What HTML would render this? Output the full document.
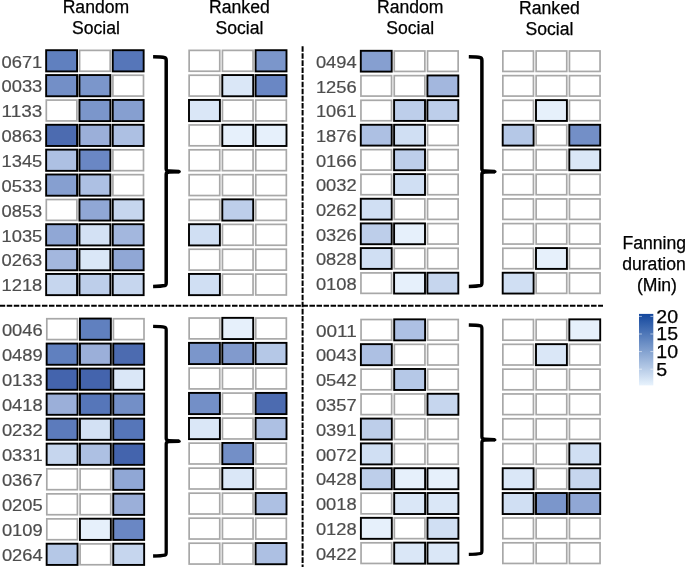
<!DOCTYPE html>
<html><head><meta charset="utf-8"><title>Fanning duration</title>
<style>
html,body{margin:0;padding:0;background:#fff;}
svg{display:block;font-family:"Liberation Sans",sans-serif;font-size:17.3px;}
.t{font-size:17.6px;fill:#000;stroke:#000;stroke-width:0.25px;}
</style></head><body>
<svg width="685" height="567" viewBox="0 0 685 567">
<rect width="685" height="567" fill="#fff"/>
<text x="42.3" y="67.50" text-anchor="end" fill="#4d4d4d" stroke="#4d4d4d" stroke-width="0.2" textLength="40.8" lengthAdjust="spacingAndGlyphs">0671</text>
<text x="42.3" y="92.36" text-anchor="end" fill="#4d4d4d" stroke="#4d4d4d" stroke-width="0.2" textLength="40.8" lengthAdjust="spacingAndGlyphs">0033</text>
<text x="42.3" y="117.22" text-anchor="end" fill="#4d4d4d" stroke="#4d4d4d" stroke-width="0.2" textLength="40.8" lengthAdjust="spacingAndGlyphs">1133</text>
<text x="42.3" y="142.08" text-anchor="end" fill="#4d4d4d" stroke="#4d4d4d" stroke-width="0.2" textLength="40.8" lengthAdjust="spacingAndGlyphs">0863</text>
<text x="42.3" y="166.94" text-anchor="end" fill="#4d4d4d" stroke="#4d4d4d" stroke-width="0.2" textLength="40.8" lengthAdjust="spacingAndGlyphs">1345</text>
<text x="42.3" y="191.80" text-anchor="end" fill="#4d4d4d" stroke="#4d4d4d" stroke-width="0.2" textLength="40.8" lengthAdjust="spacingAndGlyphs">0533</text>
<text x="42.3" y="216.66" text-anchor="end" fill="#4d4d4d" stroke="#4d4d4d" stroke-width="0.2" textLength="40.8" lengthAdjust="spacingAndGlyphs">0853</text>
<text x="42.3" y="241.52" text-anchor="end" fill="#4d4d4d" stroke="#4d4d4d" stroke-width="0.2" textLength="40.8" lengthAdjust="spacingAndGlyphs">1035</text>
<text x="42.3" y="266.38" text-anchor="end" fill="#4d4d4d" stroke="#4d4d4d" stroke-width="0.2" textLength="40.8" lengthAdjust="spacingAndGlyphs">0263</text>
<text x="42.3" y="291.24" text-anchor="end" fill="#4d4d4d" stroke="#4d4d4d" stroke-width="0.2" textLength="40.8" lengthAdjust="spacingAndGlyphs">1218</text>
<rect x="189.15" y="50.38" width="30.6" height="20.85" fill="#fff" stroke="#a8a8a8" stroke-width="1.7"/>
<rect x="79.60" y="50.38" width="30.6" height="20.85" fill="#fff" stroke="#a8a8a8" stroke-width="1.7"/>
<rect x="222.45" y="50.38" width="30.6" height="20.85" fill="#fff" stroke="#a8a8a8" stroke-width="1.7"/>
<rect x="189.15" y="75.23" width="30.6" height="20.85" fill="#fff" stroke="#a8a8a8" stroke-width="1.7"/>
<rect x="112.90" y="75.23" width="30.6" height="20.85" fill="#fff" stroke="#a8a8a8" stroke-width="1.7"/>
<rect x="46.30" y="100.09" width="30.6" height="20.85" fill="#fff" stroke="#a8a8a8" stroke-width="1.7"/>
<rect x="222.45" y="100.09" width="30.6" height="20.85" fill="#fff" stroke="#a8a8a8" stroke-width="1.7"/>
<rect x="255.75" y="100.09" width="30.6" height="20.85" fill="#fff" stroke="#a8a8a8" stroke-width="1.7"/>
<rect x="189.15" y="124.95" width="30.6" height="20.85" fill="#fff" stroke="#a8a8a8" stroke-width="1.7"/>
<rect x="189.15" y="149.81" width="30.6" height="20.85" fill="#fff" stroke="#a8a8a8" stroke-width="1.7"/>
<rect x="222.45" y="149.81" width="30.6" height="20.85" fill="#fff" stroke="#a8a8a8" stroke-width="1.7"/>
<rect x="112.90" y="149.81" width="30.6" height="20.85" fill="#fff" stroke="#a8a8a8" stroke-width="1.7"/>
<rect x="255.75" y="149.81" width="30.6" height="20.85" fill="#fff" stroke="#a8a8a8" stroke-width="1.7"/>
<rect x="189.15" y="174.68" width="30.6" height="20.85" fill="#fff" stroke="#a8a8a8" stroke-width="1.7"/>
<rect x="222.45" y="174.68" width="30.6" height="20.85" fill="#fff" stroke="#a8a8a8" stroke-width="1.7"/>
<rect x="112.90" y="174.68" width="30.6" height="20.85" fill="#fff" stroke="#a8a8a8" stroke-width="1.7"/>
<rect x="255.75" y="174.68" width="30.6" height="20.85" fill="#fff" stroke="#a8a8a8" stroke-width="1.7"/>
<rect x="46.30" y="199.53" width="30.6" height="20.85" fill="#fff" stroke="#a8a8a8" stroke-width="1.7"/>
<rect x="189.15" y="199.53" width="30.6" height="20.85" fill="#fff" stroke="#a8a8a8" stroke-width="1.7"/>
<rect x="255.75" y="199.53" width="30.6" height="20.85" fill="#fff" stroke="#a8a8a8" stroke-width="1.7"/>
<rect x="222.45" y="224.39" width="30.6" height="20.85" fill="#fff" stroke="#a8a8a8" stroke-width="1.7"/>
<rect x="255.75" y="224.39" width="30.6" height="20.85" fill="#fff" stroke="#a8a8a8" stroke-width="1.7"/>
<rect x="189.15" y="249.25" width="30.6" height="20.85" fill="#fff" stroke="#a8a8a8" stroke-width="1.7"/>
<rect x="222.45" y="249.25" width="30.6" height="20.85" fill="#fff" stroke="#a8a8a8" stroke-width="1.7"/>
<rect x="255.75" y="249.25" width="30.6" height="20.85" fill="#fff" stroke="#a8a8a8" stroke-width="1.7"/>
<rect x="222.45" y="274.12" width="30.6" height="20.85" fill="#fff" stroke="#a8a8a8" stroke-width="1.7"/>
<rect x="255.75" y="274.12" width="30.6" height="20.85" fill="#fff" stroke="#a8a8a8" stroke-width="1.7"/>
<rect x="46.15" y="50.20" width="30.9" height="21.20" fill="#6080bf" stroke="#000" stroke-width="1.9"/>
<rect x="112.75" y="50.20" width="30.9" height="21.20" fill="#5676b9" stroke="#000" stroke-width="1.9"/>
<rect x="255.60" y="50.20" width="30.9" height="21.20" fill="#7b96cb" stroke="#000" stroke-width="1.9"/>
<rect x="46.15" y="75.06" width="30.9" height="21.20" fill="#738fc7" stroke="#000" stroke-width="1.9"/>
<rect x="79.45" y="75.06" width="30.9" height="21.20" fill="#7b96cb" stroke="#000" stroke-width="1.9"/>
<rect x="222.30" y="75.06" width="30.9" height="21.20" fill="#dae7f7" stroke="#000" stroke-width="1.9"/>
<rect x="255.60" y="75.06" width="30.9" height="21.20" fill="#6a87c4" stroke="#000" stroke-width="1.9"/>
<rect x="189.00" y="99.92" width="30.9" height="21.20" fill="#dae7f7" stroke="#000" stroke-width="1.9"/>
<rect x="79.45" y="99.92" width="30.9" height="21.20" fill="#7b96cb" stroke="#000" stroke-width="1.9"/>
<rect x="112.75" y="99.92" width="30.9" height="21.20" fill="#869fd0" stroke="#000" stroke-width="1.9"/>
<rect x="46.15" y="124.78" width="30.9" height="21.20" fill="#4c6bb0" stroke="#000" stroke-width="1.9"/>
<rect x="79.45" y="124.78" width="30.9" height="21.20" fill="#9bafd9" stroke="#000" stroke-width="1.9"/>
<rect x="222.30" y="124.78" width="30.9" height="21.20" fill="#e6f0fb" stroke="#000" stroke-width="1.9"/>
<rect x="112.75" y="124.78" width="30.9" height="21.20" fill="#adc0e3" stroke="#000" stroke-width="1.9"/>
<rect x="255.60" y="124.78" width="30.9" height="21.20" fill="#e6f0fb" stroke="#000" stroke-width="1.9"/>
<rect x="46.15" y="149.64" width="30.9" height="21.20" fill="#adc0e3" stroke="#000" stroke-width="1.9"/>
<rect x="79.45" y="149.64" width="30.9" height="21.20" fill="#6a87c4" stroke="#000" stroke-width="1.9"/>
<rect x="46.15" y="174.50" width="30.9" height="21.20" fill="#869fd0" stroke="#000" stroke-width="1.9"/>
<rect x="79.45" y="174.50" width="30.9" height="21.20" fill="#adc0e3" stroke="#000" stroke-width="1.9"/>
<rect x="79.45" y="199.36" width="30.9" height="21.20" fill="#90a7d5" stroke="#000" stroke-width="1.9"/>
<rect x="222.30" y="199.36" width="30.9" height="21.20" fill="#bdceea" stroke="#000" stroke-width="1.9"/>
<rect x="112.75" y="199.36" width="30.9" height="21.20" fill="#c6d6ee" stroke="#000" stroke-width="1.9"/>
<rect x="46.15" y="224.22" width="30.9" height="21.20" fill="#90a7d5" stroke="#000" stroke-width="1.9"/>
<rect x="189.00" y="224.22" width="30.9" height="21.20" fill="#d0dff3" stroke="#000" stroke-width="1.9"/>
<rect x="79.45" y="224.22" width="30.9" height="21.20" fill="#d3e1f4" stroke="#000" stroke-width="1.9"/>
<rect x="112.75" y="224.22" width="30.9" height="21.20" fill="#a3b7de" stroke="#000" stroke-width="1.9"/>
<rect x="46.15" y="249.08" width="30.9" height="21.20" fill="#a3b7de" stroke="#000" stroke-width="1.9"/>
<rect x="79.45" y="249.08" width="30.9" height="21.20" fill="#dae7f7" stroke="#000" stroke-width="1.9"/>
<rect x="112.75" y="249.08" width="30.9" height="21.20" fill="#90a7d5" stroke="#000" stroke-width="1.9"/>
<rect x="46.15" y="273.94" width="30.9" height="21.20" fill="#c6d6ee" stroke="#000" stroke-width="1.9"/>
<rect x="189.00" y="273.94" width="30.9" height="21.20" fill="#d0dff3" stroke="#000" stroke-width="1.9"/>
<rect x="79.45" y="273.94" width="30.9" height="21.20" fill="#bdceea" stroke="#000" stroke-width="1.9"/>
<rect x="112.75" y="273.94" width="30.9" height="21.20" fill="#c6d6ee" stroke="#000" stroke-width="1.9"/>
<text x="356.7" y="67.90" text-anchor="end" fill="#4d4d4d" stroke="#4d4d4d" stroke-width="0.2" textLength="40.8" lengthAdjust="spacingAndGlyphs">0494</text>
<text x="356.7" y="92.56" text-anchor="end" fill="#4d4d4d" stroke="#4d4d4d" stroke-width="0.2" textLength="40.8" lengthAdjust="spacingAndGlyphs">1256</text>
<text x="356.7" y="117.22" text-anchor="end" fill="#4d4d4d" stroke="#4d4d4d" stroke-width="0.2" textLength="40.8" lengthAdjust="spacingAndGlyphs">1061</text>
<text x="356.7" y="141.88" text-anchor="end" fill="#4d4d4d" stroke="#4d4d4d" stroke-width="0.2" textLength="40.8" lengthAdjust="spacingAndGlyphs">1876</text>
<text x="356.7" y="166.54" text-anchor="end" fill="#4d4d4d" stroke="#4d4d4d" stroke-width="0.2" textLength="40.8" lengthAdjust="spacingAndGlyphs">0166</text>
<text x="356.7" y="191.20" text-anchor="end" fill="#4d4d4d" stroke="#4d4d4d" stroke-width="0.2" textLength="40.8" lengthAdjust="spacingAndGlyphs">0032</text>
<text x="356.7" y="215.86" text-anchor="end" fill="#4d4d4d" stroke="#4d4d4d" stroke-width="0.2" textLength="40.8" lengthAdjust="spacingAndGlyphs">0262</text>
<text x="356.7" y="240.52" text-anchor="end" fill="#4d4d4d" stroke="#4d4d4d" stroke-width="0.2" textLength="40.8" lengthAdjust="spacingAndGlyphs">0326</text>
<text x="356.7" y="265.18" text-anchor="end" fill="#4d4d4d" stroke="#4d4d4d" stroke-width="0.2" textLength="40.8" lengthAdjust="spacingAndGlyphs">0828</text>
<text x="356.7" y="289.84" text-anchor="end" fill="#4d4d4d" stroke="#4d4d4d" stroke-width="0.2" textLength="40.8" lengthAdjust="spacingAndGlyphs">0108</text>
<rect x="502.85" y="50.98" width="30.6" height="20.45" fill="#fff" stroke="#a8a8a8" stroke-width="1.7"/>
<rect x="394.25" y="50.98" width="30.6" height="20.45" fill="#fff" stroke="#a8a8a8" stroke-width="1.7"/>
<rect x="536.15" y="50.98" width="30.6" height="20.45" fill="#fff" stroke="#a8a8a8" stroke-width="1.7"/>
<rect x="427.55" y="50.98" width="30.6" height="20.45" fill="#fff" stroke="#a8a8a8" stroke-width="1.7"/>
<rect x="569.45" y="50.98" width="30.6" height="20.45" fill="#fff" stroke="#a8a8a8" stroke-width="1.7"/>
<rect x="360.95" y="75.64" width="30.6" height="20.45" fill="#fff" stroke="#a8a8a8" stroke-width="1.7"/>
<rect x="502.85" y="75.64" width="30.6" height="20.45" fill="#fff" stroke="#a8a8a8" stroke-width="1.7"/>
<rect x="394.25" y="75.64" width="30.6" height="20.45" fill="#fff" stroke="#a8a8a8" stroke-width="1.7"/>
<rect x="536.15" y="75.64" width="30.6" height="20.45" fill="#fff" stroke="#a8a8a8" stroke-width="1.7"/>
<rect x="569.45" y="75.64" width="30.6" height="20.45" fill="#fff" stroke="#a8a8a8" stroke-width="1.7"/>
<rect x="360.95" y="100.30" width="30.6" height="20.45" fill="#fff" stroke="#a8a8a8" stroke-width="1.7"/>
<rect x="502.85" y="100.30" width="30.6" height="20.45" fill="#fff" stroke="#a8a8a8" stroke-width="1.7"/>
<rect x="569.45" y="100.30" width="30.6" height="20.45" fill="#fff" stroke="#a8a8a8" stroke-width="1.7"/>
<rect x="536.15" y="124.96" width="30.6" height="20.45" fill="#fff" stroke="#a8a8a8" stroke-width="1.7"/>
<rect x="427.55" y="124.96" width="30.6" height="20.45" fill="#fff" stroke="#a8a8a8" stroke-width="1.7"/>
<rect x="360.95" y="149.62" width="30.6" height="20.45" fill="#fff" stroke="#a8a8a8" stroke-width="1.7"/>
<rect x="502.85" y="149.62" width="30.6" height="20.45" fill="#fff" stroke="#a8a8a8" stroke-width="1.7"/>
<rect x="536.15" y="149.62" width="30.6" height="20.45" fill="#fff" stroke="#a8a8a8" stroke-width="1.7"/>
<rect x="427.55" y="149.62" width="30.6" height="20.45" fill="#fff" stroke="#a8a8a8" stroke-width="1.7"/>
<rect x="360.95" y="174.28" width="30.6" height="20.45" fill="#fff" stroke="#a8a8a8" stroke-width="1.7"/>
<rect x="502.85" y="174.28" width="30.6" height="20.45" fill="#fff" stroke="#a8a8a8" stroke-width="1.7"/>
<rect x="536.15" y="174.28" width="30.6" height="20.45" fill="#fff" stroke="#a8a8a8" stroke-width="1.7"/>
<rect x="427.55" y="174.28" width="30.6" height="20.45" fill="#fff" stroke="#a8a8a8" stroke-width="1.7"/>
<rect x="569.45" y="174.28" width="30.6" height="20.45" fill="#fff" stroke="#a8a8a8" stroke-width="1.7"/>
<rect x="502.85" y="198.94" width="30.6" height="20.45" fill="#fff" stroke="#a8a8a8" stroke-width="1.7"/>
<rect x="394.25" y="198.94" width="30.6" height="20.45" fill="#fff" stroke="#a8a8a8" stroke-width="1.7"/>
<rect x="536.15" y="198.94" width="30.6" height="20.45" fill="#fff" stroke="#a8a8a8" stroke-width="1.7"/>
<rect x="427.55" y="198.94" width="30.6" height="20.45" fill="#fff" stroke="#a8a8a8" stroke-width="1.7"/>
<rect x="569.45" y="198.94" width="30.6" height="20.45" fill="#fff" stroke="#a8a8a8" stroke-width="1.7"/>
<rect x="502.85" y="223.60" width="30.6" height="20.45" fill="#fff" stroke="#a8a8a8" stroke-width="1.7"/>
<rect x="536.15" y="223.60" width="30.6" height="20.45" fill="#fff" stroke="#a8a8a8" stroke-width="1.7"/>
<rect x="427.55" y="223.60" width="30.6" height="20.45" fill="#fff" stroke="#a8a8a8" stroke-width="1.7"/>
<rect x="569.45" y="223.60" width="30.6" height="20.45" fill="#fff" stroke="#a8a8a8" stroke-width="1.7"/>
<rect x="502.85" y="248.26" width="30.6" height="20.45" fill="#fff" stroke="#a8a8a8" stroke-width="1.7"/>
<rect x="394.25" y="248.26" width="30.6" height="20.45" fill="#fff" stroke="#a8a8a8" stroke-width="1.7"/>
<rect x="427.55" y="248.26" width="30.6" height="20.45" fill="#fff" stroke="#a8a8a8" stroke-width="1.7"/>
<rect x="569.45" y="248.26" width="30.6" height="20.45" fill="#fff" stroke="#a8a8a8" stroke-width="1.7"/>
<rect x="360.95" y="272.91" width="30.6" height="20.45" fill="#fff" stroke="#a8a8a8" stroke-width="1.7"/>
<rect x="536.15" y="272.91" width="30.6" height="20.45" fill="#fff" stroke="#a8a8a8" stroke-width="1.7"/>
<rect x="569.45" y="272.91" width="30.6" height="20.45" fill="#fff" stroke="#a8a8a8" stroke-width="1.7"/>
<rect x="360.80" y="50.80" width="30.9" height="20.80" fill="#869fd0" stroke="#000" stroke-width="1.9"/>
<rect x="427.40" y="75.46" width="30.9" height="20.80" fill="#a3b7de" stroke="#000" stroke-width="1.9"/>
<rect x="394.10" y="100.12" width="30.9" height="20.80" fill="#bdceea" stroke="#000" stroke-width="1.9"/>
<rect x="536.00" y="100.12" width="30.9" height="20.80" fill="#e6f0fb" stroke="#000" stroke-width="1.9"/>
<rect x="427.40" y="100.12" width="30.9" height="20.80" fill="#bdceea" stroke="#000" stroke-width="1.9"/>
<rect x="360.80" y="124.78" width="30.9" height="20.80" fill="#adc0e3" stroke="#000" stroke-width="1.9"/>
<rect x="502.70" y="124.78" width="30.9" height="20.80" fill="#b5c8e7" stroke="#000" stroke-width="1.9"/>
<rect x="394.10" y="124.78" width="30.9" height="20.80" fill="#d0dff3" stroke="#000" stroke-width="1.9"/>
<rect x="569.30" y="124.78" width="30.9" height="20.80" fill="#738fc7" stroke="#000" stroke-width="1.9"/>
<rect x="394.10" y="149.44" width="30.9" height="20.80" fill="#bdceea" stroke="#000" stroke-width="1.9"/>
<rect x="569.30" y="149.44" width="30.9" height="20.80" fill="#dae7f7" stroke="#000" stroke-width="1.9"/>
<rect x="394.10" y="174.10" width="30.9" height="20.80" fill="#d0dff3" stroke="#000" stroke-width="1.9"/>
<rect x="360.80" y="198.76" width="30.9" height="20.80" fill="#d0dff3" stroke="#000" stroke-width="1.9"/>
<rect x="360.80" y="223.42" width="30.9" height="20.80" fill="#bdceea" stroke="#000" stroke-width="1.9"/>
<rect x="394.10" y="223.42" width="30.9" height="20.80" fill="#e6f0fb" stroke="#000" stroke-width="1.9"/>
<rect x="360.80" y="248.08" width="30.9" height="20.80" fill="#d0dff3" stroke="#000" stroke-width="1.9"/>
<rect x="536.00" y="248.08" width="30.9" height="20.80" fill="#e6f0fb" stroke="#000" stroke-width="1.9"/>
<rect x="502.70" y="272.74" width="30.9" height="20.80" fill="#d0dff3" stroke="#000" stroke-width="1.9"/>
<rect x="394.10" y="272.74" width="30.9" height="20.80" fill="#e6f0fb" stroke="#000" stroke-width="1.9"/>
<rect x="427.40" y="272.74" width="30.9" height="20.80" fill="#c6d6ee" stroke="#000" stroke-width="1.9"/>
<text x="42.7" y="335.85" text-anchor="end" fill="#4d4d4d" stroke="#4d4d4d" stroke-width="0.2" textLength="40.8" lengthAdjust="spacingAndGlyphs">0046</text>
<text x="42.7" y="360.87" text-anchor="end" fill="#4d4d4d" stroke="#4d4d4d" stroke-width="0.2" textLength="40.8" lengthAdjust="spacingAndGlyphs">0489</text>
<text x="42.7" y="385.89" text-anchor="end" fill="#4d4d4d" stroke="#4d4d4d" stroke-width="0.2" textLength="40.8" lengthAdjust="spacingAndGlyphs">0133</text>
<text x="42.7" y="410.91" text-anchor="end" fill="#4d4d4d" stroke="#4d4d4d" stroke-width="0.2" textLength="40.8" lengthAdjust="spacingAndGlyphs">0418</text>
<text x="42.7" y="435.93" text-anchor="end" fill="#4d4d4d" stroke="#4d4d4d" stroke-width="0.2" textLength="40.8" lengthAdjust="spacingAndGlyphs">0232</text>
<text x="42.7" y="460.95" text-anchor="end" fill="#4d4d4d" stroke="#4d4d4d" stroke-width="0.2" textLength="40.8" lengthAdjust="spacingAndGlyphs">0331</text>
<text x="42.7" y="485.97" text-anchor="end" fill="#4d4d4d" stroke="#4d4d4d" stroke-width="0.2" textLength="40.8" lengthAdjust="spacingAndGlyphs">0367</text>
<text x="42.7" y="510.99" text-anchor="end" fill="#4d4d4d" stroke="#4d4d4d" stroke-width="0.2" textLength="40.8" lengthAdjust="spacingAndGlyphs">0205</text>
<text x="42.7" y="536.01" text-anchor="end" fill="#4d4d4d" stroke="#4d4d4d" stroke-width="0.2" textLength="40.8" lengthAdjust="spacingAndGlyphs">0109</text>
<text x="42.7" y="561.03" text-anchor="end" fill="#4d4d4d" stroke="#4d4d4d" stroke-width="0.2" textLength="40.8" lengthAdjust="spacingAndGlyphs">0264</text>
<rect x="46.80" y="318.73" width="30.6" height="20.85" fill="#fff" stroke="#a8a8a8" stroke-width="1.7"/>
<rect x="189.15" y="318.03" width="30.6" height="20.85" fill="#fff" stroke="#a8a8a8" stroke-width="1.7"/>
<rect x="113.40" y="318.73" width="30.6" height="20.85" fill="#fff" stroke="#a8a8a8" stroke-width="1.7"/>
<rect x="255.75" y="318.03" width="30.6" height="20.85" fill="#fff" stroke="#a8a8a8" stroke-width="1.7"/>
<rect x="189.15" y="368.07" width="30.6" height="20.85" fill="#fff" stroke="#a8a8a8" stroke-width="1.7"/>
<rect x="222.45" y="368.07" width="30.6" height="20.85" fill="#fff" stroke="#a8a8a8" stroke-width="1.7"/>
<rect x="255.75" y="368.07" width="30.6" height="20.85" fill="#fff" stroke="#a8a8a8" stroke-width="1.7"/>
<rect x="222.45" y="393.09" width="30.6" height="20.85" fill="#fff" stroke="#a8a8a8" stroke-width="1.7"/>
<rect x="222.45" y="418.11" width="30.6" height="20.85" fill="#fff" stroke="#a8a8a8" stroke-width="1.7"/>
<rect x="189.15" y="443.13" width="30.6" height="20.85" fill="#fff" stroke="#a8a8a8" stroke-width="1.7"/>
<rect x="255.75" y="443.13" width="30.6" height="20.85" fill="#fff" stroke="#a8a8a8" stroke-width="1.7"/>
<rect x="46.80" y="468.85" width="30.6" height="20.85" fill="#fff" stroke="#a8a8a8" stroke-width="1.7"/>
<rect x="189.15" y="468.15" width="30.6" height="20.85" fill="#fff" stroke="#a8a8a8" stroke-width="1.7"/>
<rect x="80.10" y="468.85" width="30.6" height="20.85" fill="#fff" stroke="#a8a8a8" stroke-width="1.7"/>
<rect x="255.75" y="468.15" width="30.6" height="20.85" fill="#fff" stroke="#a8a8a8" stroke-width="1.7"/>
<rect x="46.80" y="493.87" width="30.6" height="20.85" fill="#fff" stroke="#a8a8a8" stroke-width="1.7"/>
<rect x="189.15" y="493.17" width="30.6" height="20.85" fill="#fff" stroke="#a8a8a8" stroke-width="1.7"/>
<rect x="80.10" y="493.87" width="30.6" height="20.85" fill="#fff" stroke="#a8a8a8" stroke-width="1.7"/>
<rect x="222.45" y="493.17" width="30.6" height="20.85" fill="#fff" stroke="#a8a8a8" stroke-width="1.7"/>
<rect x="46.80" y="518.88" width="30.6" height="20.85" fill="#fff" stroke="#a8a8a8" stroke-width="1.7"/>
<rect x="189.15" y="518.18" width="30.6" height="20.85" fill="#fff" stroke="#a8a8a8" stroke-width="1.7"/>
<rect x="222.45" y="518.18" width="30.6" height="20.85" fill="#fff" stroke="#a8a8a8" stroke-width="1.7"/>
<rect x="255.75" y="518.18" width="30.6" height="20.85" fill="#fff" stroke="#a8a8a8" stroke-width="1.7"/>
<rect x="189.15" y="543.20" width="30.6" height="20.85" fill="#fff" stroke="#a8a8a8" stroke-width="1.7"/>
<rect x="80.10" y="543.90" width="30.6" height="20.85" fill="#fff" stroke="#a8a8a8" stroke-width="1.7"/>
<rect x="222.45" y="543.20" width="30.6" height="20.85" fill="#fff" stroke="#a8a8a8" stroke-width="1.7"/>
<rect x="79.95" y="318.55" width="30.9" height="21.20" fill="#6080bf" stroke="#000" stroke-width="1.9"/>
<rect x="222.30" y="317.85" width="30.9" height="21.20" fill="#e6f0fb" stroke="#000" stroke-width="1.9"/>
<rect x="46.65" y="343.57" width="30.9" height="21.20" fill="#6080bf" stroke="#000" stroke-width="1.9"/>
<rect x="189.00" y="342.87" width="30.9" height="21.20" fill="#7b96cb" stroke="#000" stroke-width="1.9"/>
<rect x="79.95" y="343.57" width="30.9" height="21.20" fill="#9bafd9" stroke="#000" stroke-width="1.9"/>
<rect x="222.30" y="342.87" width="30.9" height="21.20" fill="#819acd" stroke="#000" stroke-width="1.9"/>
<rect x="113.25" y="343.57" width="30.9" height="21.20" fill="#4c6bb0" stroke="#000" stroke-width="1.9"/>
<rect x="255.60" y="342.87" width="30.9" height="21.20" fill="#b5c8e7" stroke="#000" stroke-width="1.9"/>
<rect x="46.65" y="368.59" width="30.9" height="21.20" fill="#4464ad" stroke="#000" stroke-width="1.9"/>
<rect x="79.95" y="368.59" width="30.9" height="21.20" fill="#4464ad" stroke="#000" stroke-width="1.9"/>
<rect x="113.25" y="368.59" width="30.9" height="21.20" fill="#dae7f7" stroke="#000" stroke-width="1.9"/>
<rect x="46.65" y="393.61" width="30.9" height="21.20" fill="#9bafd9" stroke="#000" stroke-width="1.9"/>
<rect x="189.00" y="392.91" width="30.9" height="21.20" fill="#738fc7" stroke="#000" stroke-width="1.9"/>
<rect x="79.95" y="393.61" width="30.9" height="21.20" fill="#5676b9" stroke="#000" stroke-width="1.9"/>
<rect x="113.25" y="393.61" width="30.9" height="21.20" fill="#738fc7" stroke="#000" stroke-width="1.9"/>
<rect x="255.60" y="392.91" width="30.9" height="21.20" fill="#4c6bb0" stroke="#000" stroke-width="1.9"/>
<rect x="46.65" y="418.63" width="30.9" height="21.20" fill="#5c7bbc" stroke="#000" stroke-width="1.9"/>
<rect x="189.00" y="417.93" width="30.9" height="21.20" fill="#dae7f7" stroke="#000" stroke-width="1.9"/>
<rect x="79.95" y="418.63" width="30.9" height="21.20" fill="#d3e1f4" stroke="#000" stroke-width="1.9"/>
<rect x="113.25" y="418.63" width="30.9" height="21.20" fill="#5676b9" stroke="#000" stroke-width="1.9"/>
<rect x="255.60" y="417.93" width="30.9" height="21.20" fill="#adc0e3" stroke="#000" stroke-width="1.9"/>
<rect x="46.65" y="443.65" width="30.9" height="21.20" fill="#c6d6ee" stroke="#000" stroke-width="1.9"/>
<rect x="79.95" y="443.65" width="30.9" height="21.20" fill="#adc0e3" stroke="#000" stroke-width="1.9"/>
<rect x="222.30" y="442.95" width="30.9" height="21.20" fill="#738fc7" stroke="#000" stroke-width="1.9"/>
<rect x="113.25" y="443.65" width="30.9" height="21.20" fill="#4464ad" stroke="#000" stroke-width="1.9"/>
<rect x="222.30" y="467.97" width="30.9" height="21.20" fill="#dae7f7" stroke="#000" stroke-width="1.9"/>
<rect x="113.25" y="468.67" width="30.9" height="21.20" fill="#90a7d5" stroke="#000" stroke-width="1.9"/>
<rect x="113.25" y="493.69" width="30.9" height="21.20" fill="#9bafd9" stroke="#000" stroke-width="1.9"/>
<rect x="255.60" y="492.99" width="30.9" height="21.20" fill="#adc0e3" stroke="#000" stroke-width="1.9"/>
<rect x="79.95" y="518.71" width="30.9" height="21.20" fill="#e6f0fb" stroke="#000" stroke-width="1.9"/>
<rect x="113.25" y="518.71" width="30.9" height="21.20" fill="#6a87c4" stroke="#000" stroke-width="1.9"/>
<rect x="46.65" y="543.73" width="30.9" height="21.20" fill="#b5c8e7" stroke="#000" stroke-width="1.9"/>
<rect x="113.25" y="543.73" width="30.9" height="21.20" fill="#c6d6ee" stroke="#000" stroke-width="1.9"/>
<rect x="255.60" y="543.03" width="30.9" height="21.20" fill="#adc0e3" stroke="#000" stroke-width="1.9"/>
<text x="356.7" y="336.55" text-anchor="end" fill="#4d4d4d" stroke="#4d4d4d" stroke-width="0.2" textLength="40.8" lengthAdjust="spacingAndGlyphs">0011</text>
<text x="356.7" y="361.36" text-anchor="end" fill="#4d4d4d" stroke="#4d4d4d" stroke-width="0.2" textLength="40.8" lengthAdjust="spacingAndGlyphs">0043</text>
<text x="356.7" y="386.17" text-anchor="end" fill="#4d4d4d" stroke="#4d4d4d" stroke-width="0.2" textLength="40.8" lengthAdjust="spacingAndGlyphs">0542</text>
<text x="356.7" y="410.98" text-anchor="end" fill="#4d4d4d" stroke="#4d4d4d" stroke-width="0.2" textLength="40.8" lengthAdjust="spacingAndGlyphs">0357</text>
<text x="356.7" y="435.79" text-anchor="end" fill="#4d4d4d" stroke="#4d4d4d" stroke-width="0.2" textLength="40.8" lengthAdjust="spacingAndGlyphs">0391</text>
<text x="356.7" y="460.60" text-anchor="end" fill="#4d4d4d" stroke="#4d4d4d" stroke-width="0.2" textLength="40.8" lengthAdjust="spacingAndGlyphs">0072</text>
<text x="356.7" y="485.41" text-anchor="end" fill="#4d4d4d" stroke="#4d4d4d" stroke-width="0.2" textLength="40.8" lengthAdjust="spacingAndGlyphs">0428</text>
<text x="356.7" y="510.22" text-anchor="end" fill="#4d4d4d" stroke="#4d4d4d" stroke-width="0.2" textLength="40.8" lengthAdjust="spacingAndGlyphs">0018</text>
<text x="356.7" y="535.03" text-anchor="end" fill="#4d4d4d" stroke="#4d4d4d" stroke-width="0.2" textLength="40.8" lengthAdjust="spacingAndGlyphs">0128</text>
<text x="356.7" y="559.84" text-anchor="end" fill="#4d4d4d" stroke="#4d4d4d" stroke-width="0.2" textLength="40.8" lengthAdjust="spacingAndGlyphs">0422</text>
<rect x="361.05" y="319.53" width="30.6" height="20.65" fill="#fff" stroke="#a8a8a8" stroke-width="1.7"/>
<rect x="502.85" y="319.53" width="30.6" height="20.65" fill="#fff" stroke="#a8a8a8" stroke-width="1.7"/>
<rect x="536.15" y="319.53" width="30.6" height="20.65" fill="#fff" stroke="#a8a8a8" stroke-width="1.7"/>
<rect x="427.65" y="319.53" width="30.6" height="20.65" fill="#fff" stroke="#a8a8a8" stroke-width="1.7"/>
<rect x="502.85" y="344.34" width="30.6" height="20.65" fill="#fff" stroke="#a8a8a8" stroke-width="1.7"/>
<rect x="394.35" y="344.34" width="30.6" height="20.65" fill="#fff" stroke="#a8a8a8" stroke-width="1.7"/>
<rect x="427.65" y="344.34" width="30.6" height="20.65" fill="#fff" stroke="#a8a8a8" stroke-width="1.7"/>
<rect x="569.45" y="344.34" width="30.6" height="20.65" fill="#fff" stroke="#a8a8a8" stroke-width="1.7"/>
<rect x="361.05" y="369.15" width="30.6" height="20.65" fill="#fff" stroke="#a8a8a8" stroke-width="1.7"/>
<rect x="502.85" y="369.15" width="30.6" height="20.65" fill="#fff" stroke="#a8a8a8" stroke-width="1.7"/>
<rect x="536.15" y="369.15" width="30.6" height="20.65" fill="#fff" stroke="#a8a8a8" stroke-width="1.7"/>
<rect x="427.65" y="369.15" width="30.6" height="20.65" fill="#fff" stroke="#a8a8a8" stroke-width="1.7"/>
<rect x="569.45" y="369.15" width="30.6" height="20.65" fill="#fff" stroke="#a8a8a8" stroke-width="1.7"/>
<rect x="361.05" y="393.96" width="30.6" height="20.65" fill="#fff" stroke="#a8a8a8" stroke-width="1.7"/>
<rect x="502.85" y="393.96" width="30.6" height="20.65" fill="#fff" stroke="#a8a8a8" stroke-width="1.7"/>
<rect x="394.35" y="393.96" width="30.6" height="20.65" fill="#fff" stroke="#a8a8a8" stroke-width="1.7"/>
<rect x="536.15" y="393.96" width="30.6" height="20.65" fill="#fff" stroke="#a8a8a8" stroke-width="1.7"/>
<rect x="569.45" y="393.96" width="30.6" height="20.65" fill="#fff" stroke="#a8a8a8" stroke-width="1.7"/>
<rect x="502.85" y="418.77" width="30.6" height="20.65" fill="#fff" stroke="#a8a8a8" stroke-width="1.7"/>
<rect x="394.35" y="418.77" width="30.6" height="20.65" fill="#fff" stroke="#a8a8a8" stroke-width="1.7"/>
<rect x="536.15" y="418.77" width="30.6" height="20.65" fill="#fff" stroke="#a8a8a8" stroke-width="1.7"/>
<rect x="427.65" y="418.77" width="30.6" height="20.65" fill="#fff" stroke="#a8a8a8" stroke-width="1.7"/>
<rect x="569.45" y="418.77" width="30.6" height="20.65" fill="#fff" stroke="#a8a8a8" stroke-width="1.7"/>
<rect x="502.85" y="443.58" width="30.6" height="20.65" fill="#fff" stroke="#a8a8a8" stroke-width="1.7"/>
<rect x="394.35" y="443.58" width="30.6" height="20.65" fill="#fff" stroke="#a8a8a8" stroke-width="1.7"/>
<rect x="536.15" y="443.58" width="30.6" height="20.65" fill="#fff" stroke="#a8a8a8" stroke-width="1.7"/>
<rect x="427.65" y="443.58" width="30.6" height="20.65" fill="#fff" stroke="#a8a8a8" stroke-width="1.7"/>
<rect x="536.15" y="468.38" width="30.6" height="20.65" fill="#fff" stroke="#a8a8a8" stroke-width="1.7"/>
<rect x="361.05" y="493.20" width="30.6" height="20.65" fill="#fff" stroke="#a8a8a8" stroke-width="1.7"/>
<rect x="502.85" y="518.00" width="30.6" height="20.65" fill="#fff" stroke="#a8a8a8" stroke-width="1.7"/>
<rect x="394.35" y="518.00" width="30.6" height="20.65" fill="#fff" stroke="#a8a8a8" stroke-width="1.7"/>
<rect x="536.15" y="518.00" width="30.6" height="20.65" fill="#fff" stroke="#a8a8a8" stroke-width="1.7"/>
<rect x="569.45" y="518.00" width="30.6" height="20.65" fill="#fff" stroke="#a8a8a8" stroke-width="1.7"/>
<rect x="361.05" y="542.81" width="30.6" height="20.65" fill="#fff" stroke="#a8a8a8" stroke-width="1.7"/>
<rect x="502.85" y="542.81" width="30.6" height="20.65" fill="#fff" stroke="#a8a8a8" stroke-width="1.7"/>
<rect x="536.15" y="542.81" width="30.6" height="20.65" fill="#fff" stroke="#a8a8a8" stroke-width="1.7"/>
<rect x="569.45" y="542.81" width="30.6" height="20.65" fill="#fff" stroke="#a8a8a8" stroke-width="1.7"/>
<rect x="394.20" y="319.35" width="30.9" height="21.00" fill="#adc0e3" stroke="#000" stroke-width="1.9"/>
<rect x="569.30" y="319.35" width="30.9" height="21.00" fill="#e6f0fb" stroke="#000" stroke-width="1.9"/>
<rect x="360.90" y="344.16" width="30.9" height="21.00" fill="#adc0e3" stroke="#000" stroke-width="1.9"/>
<rect x="536.00" y="344.16" width="30.9" height="21.00" fill="#dae7f7" stroke="#000" stroke-width="1.9"/>
<rect x="394.20" y="368.97" width="30.9" height="21.00" fill="#b5c8e7" stroke="#000" stroke-width="1.9"/>
<rect x="427.50" y="393.78" width="30.9" height="21.00" fill="#c6d6ee" stroke="#000" stroke-width="1.9"/>
<rect x="360.90" y="418.59" width="30.9" height="21.00" fill="#bdceea" stroke="#000" stroke-width="1.9"/>
<rect x="360.90" y="443.40" width="30.9" height="21.00" fill="#d0dff3" stroke="#000" stroke-width="1.9"/>
<rect x="569.30" y="443.40" width="30.9" height="21.00" fill="#d0dff3" stroke="#000" stroke-width="1.9"/>
<rect x="360.90" y="468.21" width="30.9" height="21.00" fill="#bdceea" stroke="#000" stroke-width="1.9"/>
<rect x="502.70" y="468.21" width="30.9" height="21.00" fill="#dae7f7" stroke="#000" stroke-width="1.9"/>
<rect x="394.20" y="468.21" width="30.9" height="21.00" fill="#e6f0fb" stroke="#000" stroke-width="1.9"/>
<rect x="427.50" y="468.21" width="30.9" height="21.00" fill="#e6f0fb" stroke="#000" stroke-width="1.9"/>
<rect x="569.30" y="468.21" width="30.9" height="21.00" fill="#c6d6ee" stroke="#000" stroke-width="1.9"/>
<rect x="502.70" y="493.02" width="30.9" height="21.00" fill="#d0dff3" stroke="#000" stroke-width="1.9"/>
<rect x="394.20" y="493.02" width="30.9" height="21.00" fill="#dae7f7" stroke="#000" stroke-width="1.9"/>
<rect x="536.00" y="493.02" width="30.9" height="21.00" fill="#7b96cb" stroke="#000" stroke-width="1.9"/>
<rect x="427.50" y="493.02" width="30.9" height="21.00" fill="#dae7f7" stroke="#000" stroke-width="1.9"/>
<rect x="569.30" y="493.02" width="30.9" height="21.00" fill="#90a7d5" stroke="#000" stroke-width="1.9"/>
<rect x="360.90" y="517.83" width="30.9" height="21.00" fill="#e6f0fb" stroke="#000" stroke-width="1.9"/>
<rect x="427.50" y="517.83" width="30.9" height="21.00" fill="#d0dff3" stroke="#000" stroke-width="1.9"/>
<rect x="394.20" y="542.64" width="30.9" height="21.00" fill="#dae7f7" stroke="#000" stroke-width="1.9"/>
<rect x="427.50" y="542.64" width="30.9" height="21.00" fill="#dae7f7" stroke="#000" stroke-width="1.9"/>
<path d="M153.1,56.8 C159.1,56.9 163.1,57.3 164.9,57.699999999999996 Q166.2,58.0 166.2,60.4 V169.0 Q166.2,171.0 169.2,171.1 L179.2,171.54999999999998" fill="none" stroke="#000" stroke-width="3.5" stroke-linejoin="round" stroke-linecap="butt"/><path d="M153.1,286.4 C159.1,286.29999999999995 163.1,285.9 164.9,285.5 Q166.2,285.2 166.2,282.79999999999995 V174.2 Q166.2,172.2 169.2,172.1 L179.2,171.65" fill="none" stroke="#000" stroke-width="3.5" stroke-linejoin="round" stroke-linecap="butt"/><circle cx="179.2" cy="171.6" r="1.65" fill="#000"/>
<path d="M468.8,56.8 C474.8,56.9 478.8,57.3 480.6,57.699999999999996 Q481.90000000000003,58.0 481.90000000000003,60.4 V169.0 Q481.90000000000003,171.0 484.90000000000003,171.1 L494.90000000000003,171.54999999999998" fill="none" stroke="#000" stroke-width="3.5" stroke-linejoin="round" stroke-linecap="butt"/><path d="M468.8,286.4 C474.8,286.29999999999995 478.8,285.9 480.6,285.5 Q481.90000000000003,285.2 481.90000000000003,282.79999999999995 V174.2 Q481.90000000000003,172.2 484.90000000000003,172.1 L494.90000000000003,171.65" fill="none" stroke="#000" stroke-width="3.5" stroke-linejoin="round" stroke-linecap="butt"/><circle cx="494.90000000000003" cy="171.6" r="1.65" fill="#000"/>
<path d="M153.1,326.4 C159.1,326.5 163.1,326.9 164.9,327.29999999999995 Q166.2,327.59999999999997 166.2,330.0 V438.59999999999997 Q166.2,440.59999999999997 169.2,440.7 L179.2,441.15" fill="none" stroke="#000" stroke-width="3.3" stroke-linejoin="round" stroke-linecap="butt"/><path d="M153.1,556.0 C159.1,555.9 163.1,555.5 164.9,555.1 Q166.2,554.8 166.2,552.4 V443.8 Q166.2,441.8 169.2,441.7 L179.2,441.25" fill="none" stroke="#000" stroke-width="3.3" stroke-linejoin="round" stroke-linecap="butt"/><circle cx="179.2" cy="441.2" r="1.55" fill="#000"/>
<path d="M468.8,325.0 C474.8,325.1 478.8,325.5 480.6,325.9 Q481.90000000000003,326.2 481.90000000000003,328.6 V437.09999999999997 Q481.90000000000003,439.09999999999997 484.90000000000003,439.2 L494.90000000000003,439.65" fill="none" stroke="#000" stroke-width="3.3" stroke-linejoin="round" stroke-linecap="butt"/><path d="M468.8,554.4 C474.8,554.3 478.8,553.9 480.6,553.5 Q481.90000000000003,553.1999999999999 481.90000000000003,550.8 V442.3 Q481.90000000000003,440.3 484.90000000000003,440.2 L494.90000000000003,439.75" fill="none" stroke="#000" stroke-width="3.3" stroke-linejoin="round" stroke-linecap="butt"/><circle cx="494.90000000000003" cy="439.7" r="1.55" fill="#000"/>
<line x1="302.6" y1="46.15" x2="302.6" y2="567" stroke="#000" stroke-width="2" stroke-dasharray="5.55 1.55"/>
<line x1="-0.3" y1="305.75" x2="603" y2="305.75" stroke="#000" stroke-width="2" stroke-dasharray="5.5 1.54"/>
<text x="95.9" y="12.65" text-anchor="middle" class="t">Random</text><text x="95.9" y="33.75" text-anchor="middle" class="t">Social</text>
<text x="239.4" y="12.65" text-anchor="middle" class="t">Ranked</text><text x="239.4" y="33.75" text-anchor="middle" class="t">Social</text>
<text x="410.2" y="12.65" text-anchor="middle" class="t">Random</text><text x="410.2" y="33.75" text-anchor="middle" class="t">Social</text>
<text x="549.4" y="13.8" text-anchor="middle" class="t">Ranked</text><text x="549.4" y="34.900000000000006" text-anchor="middle" class="t">Social</text>
<text x="622.5" y="249.2" class="t">Fanning</text>
<text x="622.2" y="270.4" class="t">duration</text>
<text x="636.9" y="291.2" class="t">(Min)</text>
<defs><linearGradient id="cb" x1="0" y1="0" x2="0" y2="1"><stop offset="0" stop-color="rgb(20, 72, 158)"/><stop offset="1" stop-color="rgb(232, 243, 253)"/></linearGradient></defs>
<rect x="639.0" y="313.9" width="14.3" height="71.5" fill="url(#cb)"/>
<path d="M639.0,316.4h2.9M653.3,316.4h-2.9" stroke="#fff" stroke-width="0.7" opacity="0.8"/>
<text x="656.3" y="322.7" class="t" textLength="21.7" lengthAdjust="spacingAndGlyphs">20</text>
<path d="M639.0,334.0h2.9M653.3,334.0h-2.9" stroke="#fff" stroke-width="0.7" opacity="0.8"/>
<text x="656.3" y="340.3" class="t" textLength="21.7" lengthAdjust="spacingAndGlyphs">15</text>
<path d="M639.0,351.6h2.9M653.3,351.6h-2.9" stroke="#fff" stroke-width="0.7" opacity="0.8"/>
<text x="656.3" y="357.9" class="t" textLength="21.7" lengthAdjust="spacingAndGlyphs">10</text>
<path d="M639.0,369.2h2.9M653.3,369.2h-2.9" stroke="#fff" stroke-width="0.7" opacity="0.8"/>
<text x="656.3" y="375.5" class="t" textLength="10.9" lengthAdjust="spacingAndGlyphs">5</text>
</svg>
</body></html>
